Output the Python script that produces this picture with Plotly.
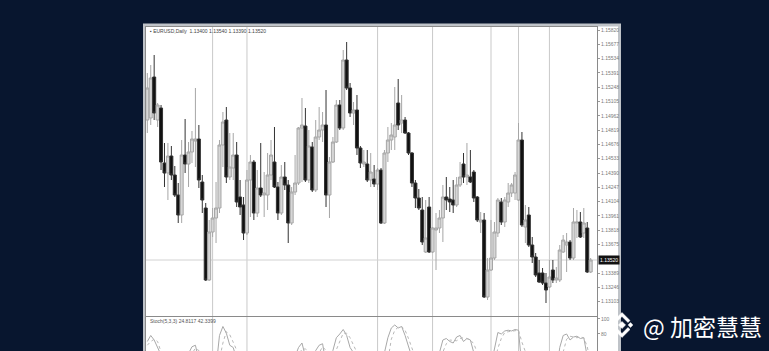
import plotly.graph_objects as go

W, H = 769, 351

# ---------------- data ----------------
bar_index = list(range(1, 131))

opens = [1.1492, 1.1494, 1.1535, 1.1492, 1.1504, 1.1449, 1.1439, 1.1456, 1.1437, 1.1417,
         1.1397, 1.1457, 1.1448, 1.1460, 1.1471, 1.1473, 1.1430, 1.1404, 1.1332, 1.1380,
         1.1394, 1.1404, 1.1467, 1.1492, 1.1435, 1.1444, 1.1457, 1.1415, 1.1407, 1.1379,
         1.1432, 1.1450, 1.1399, 1.1424, 1.1417, 1.1417, 1.1437, 1.1450, 1.1425, 1.1399,
         1.1435, 1.1427, 1.1389, 1.1420, 1.1429, 1.1484, 1.1486, 1.1432, 1.1465, 1.1422,
         1.1475, 1.1482, 1.1487, 1.1417, 1.1450, 1.1470, 1.1507, 1.1484, 1.1552, 1.1524,
         1.1499, 1.1502, 1.1464, 1.1448, 1.1448, 1.1432, 1.1433, 1.1428, 1.1442, 1.1389,
         1.1459, 1.1472, 1.1475, 1.1509, 1.1489, 1.1492, 1.1479, 1.1459, 1.1429, 1.1414,
         1.1402, 1.1360, 1.1405, 1.1360, 1.1382, 1.1384, 1.1394, 1.1415, 1.1413, 1.1412,
         1.1407, 1.1427, 1.1448, 1.1435, 1.1435, 1.1440, 1.1415, 1.1390, 1.1392, 1.1315,
         1.1342, 1.1354, 1.1379, 1.1410, 1.1390, 1.1410, 1.1419, 1.1419, 1.1412, 1.1472,
         1.1385, 1.1397, 1.1367, 1.1355, 1.1339, 1.1339, 1.1329, 1.1325, 1.1342, 1.1332,
         1.1332, 1.1360, 1.1367, 1.1370, 1.1354, 1.1389, 1.1390, 1.1379, 1.1384, 1.1340]

highs = [1.1539, 1.1547, 1.1557, 1.1509, 1.1507, 1.1469, 1.1469, 1.1466, 1.1446, 1.1429,
         1.1472, 1.1493, 1.1470, 1.1481, 1.1524, 1.1487, 1.1437, 1.1409, 1.1392, 1.1404,
         1.1430, 1.1472, 1.1500, 1.1505, 1.1479, 1.1479, 1.1470, 1.1432, 1.1415, 1.1442,
         1.1457, 1.1452, 1.1442, 1.1469, 1.1440, 1.1459, 1.1472, 1.1485, 1.1430, 1.1447,
         1.1450, 1.1432, 1.1425, 1.1457, 1.1485, 1.1514, 1.1504, 1.1482, 1.1470, 1.1492,
         1.1505, 1.1500, 1.1522, 1.1455, 1.1475, 1.1512, 1.1512, 1.1562, 1.1570, 1.1529,
         1.1510, 1.1517, 1.1466, 1.1462, 1.1462, 1.1459, 1.1447, 1.1444, 1.1444, 1.1462,
         1.1485, 1.1489, 1.1525, 1.1533, 1.1517, 1.1495, 1.1480, 1.1460, 1.1432, 1.1423,
         1.1415, 1.1412, 1.1415, 1.1385, 1.1399, 1.1402, 1.1427, 1.1435, 1.1425, 1.1432,
         1.1435, 1.1450, 1.1459, 1.1469, 1.1462, 1.1442, 1.1416, 1.1400, 1.1399, 1.1354,
         1.1392, 1.1390, 1.1414, 1.1414, 1.1415, 1.1429, 1.1429, 1.1440, 1.1489, 1.1480,
         1.1407, 1.1405, 1.1375, 1.1359, 1.1352, 1.1344, 1.1339, 1.1352, 1.1352, 1.1345,
         1.1367, 1.1377, 1.1379, 1.1372, 1.1404, 1.1402, 1.1400, 1.1404, 1.1390, 1.1354]

lows = [1.1479, 1.1487, 1.1492, 1.1485, 1.1442, 1.1425, 1.1412, 1.1432, 1.1415, 1.1389,
        1.1389, 1.1439, 1.1425, 1.1449, 1.1445, 1.1424, 1.1399, 1.1331, 1.1331, 1.1375,
        1.1369, 1.1399, 1.1445, 1.1429, 1.1432, 1.1432, 1.1405, 1.1397, 1.1372, 1.1377,
        1.1395, 1.1392, 1.1395, 1.1415, 1.1395, 1.1402, 1.1432, 1.1424, 1.1392, 1.1397,
        1.1422, 1.1369, 1.1387, 1.1417, 1.1427, 1.1430, 1.1430, 1.1429, 1.1420, 1.1420,
        1.1472, 1.1470, 1.1405, 1.1394, 1.1449, 1.1469, 1.1482, 1.1482, 1.1522, 1.1495,
        1.1487, 1.1457, 1.1444, 1.1445, 1.1430, 1.1425, 1.1425, 1.1422, 1.1388, 1.1388,
        1.1450, 1.1462, 1.1462, 1.1482, 1.1479, 1.1478, 1.1457, 1.1425, 1.1404, 1.1402,
        1.1367, 1.1359, 1.1359, 1.1359, 1.1342, 1.1379, 1.1370, 1.1402, 1.1400, 1.1399,
        1.1405, 1.1425, 1.1429, 1.1427, 1.1429, 1.1410, 1.1390, 1.1379, 1.1314, 1.1312,
        1.1341, 1.1352, 1.1375, 1.1387, 1.1385, 1.1405, 1.1415, 1.1412, 1.1411, 1.1385,
        1.1369, 1.1365, 1.1349, 1.1335, 1.1329, 1.1327, 1.1309, 1.1324, 1.1329, 1.1329,
        1.1330, 1.1359, 1.1340, 1.1352, 1.1352, 1.1374, 1.1374, 1.1374, 1.1339, 1.1339]

closes = [1.1524, 1.1534, 1.1499, 1.1507, 1.1450, 1.1439, 1.1456, 1.1437, 1.1417, 1.1397,
          1.1457, 1.1448, 1.1460, 1.1473, 1.1473, 1.1432, 1.1412, 1.1332, 1.1380, 1.1394,
          1.1404, 1.1467, 1.1490, 1.1435, 1.1445, 1.1457, 1.1410, 1.1405, 1.1379, 1.1432,
          1.1450, 1.1399, 1.1424, 1.1417, 1.1419, 1.1437, 1.1457, 1.1425, 1.1399, 1.1435,
          1.1427, 1.1389, 1.1420, 1.1429, 1.1484, 1.1487, 1.1432, 1.1466, 1.1422, 1.1475,
          1.1482, 1.1487, 1.1417, 1.1450, 1.1470, 1.1507, 1.1484, 1.1552, 1.1524, 1.1499,
          1.1502, 1.1464, 1.1449, 1.1450, 1.1432, 1.1440, 1.1428, 1.1442, 1.1389, 1.1459,
          1.1472, 1.1477, 1.1487, 1.1487, 1.1492, 1.1479, 1.1459, 1.1429, 1.1414, 1.1404,
          1.1370, 1.1374, 1.1360, 1.1384, 1.1384, 1.1394, 1.1415, 1.1412, 1.1410, 1.1407,
          1.1427, 1.1435, 1.1435, 1.1437, 1.1430, 1.1414, 1.1392, 1.1392, 1.1315, 1.1342,
          1.1354, 1.1380, 1.1412, 1.1390, 1.1412, 1.1419, 1.1427, 1.1437, 1.1472, 1.1387,
          1.1392, 1.1367, 1.1355, 1.1337, 1.1330, 1.1329, 1.1322, 1.1335, 1.1332, 1.1334,
          1.1362, 1.1372, 1.1370, 1.1354, 1.1390, 1.1390, 1.1375, 1.1389, 1.1340, 1.1352]

stoch_main = [70, 78, 72, 60, 35, 25, 30, 22, 12, 8,
              40, 45, 55, 63, 65, 45, 25, 5, 15, 22,
              35, 78, 90, 81, 65, 62, 40, 30, 15, 35,
              45, 30, 40, 42, 40, 50, 55, 45, 30, 45,
              48, 25, 40, 50, 62, 68, 50, 52, 42, 58,
              65, 67, 40, 45, 58, 75, 80, 86, 78, 62,
              55, 35, 22, 20, 12, 18, 15, 25, 5, 55,
              75, 88, 92, 88, 90, 78, 55, 30, 15, 10,
              5, 15, 8, 30, 40, 55, 72, 74, 70, 68,
              76, 78, 70, 74, 72, 55, 30, 28, 5, 25,
              40, 60, 82, 80, 84, 85, 84, 86, 85, 35,
              30, 15, 8, 5, 8, 7, 10, 25, 30, 28,
              62, 78, 80, 72, 76, 77, 74, 75, 40, 24.8117]

stoch_signal = [65, 70, 73, 70, 56, 40, 30, 26, 21, 14,
                20, 31, 47, 54, 61, 58, 45, 25, 15, 14,
                24, 45, 68, 83, 79, 69, 56, 44, 28, 27,
                32, 37, 38, 37, 41, 44, 48, 50, 43, 40,
                41, 39, 38, 38, 51, 60, 60, 57, 48, 51,
                55, 63, 57, 51, 48, 59, 71, 81, 81, 75,
                65, 51, 37, 26, 18, 17, 15, 19, 15, 28,
                45, 73, 85, 89, 90, 85, 74, 54, 33, 18,
                10, 10, 9, 18, 26, 42, 56, 67, 72, 71,
                71, 74, 75, 74, 72, 67, 52, 38, 21, 19,
                23, 42, 61, 74, 82, 83, 84, 85, 85, 69,
                50, 27, 18, 9, 7, 7, 8, 14, 22, 28,
                40, 56, 73, 77, 76, 75, 76, 75, 63, 42.3399]

price_ticks = [1.15820, 1.15677, 1.15534, 1.15391, 1.15248, 1.15105, 1.14962,
               1.14819, 1.14676, 1.14533, 1.14390, 1.14247, 1.14104, 1.13961,
               1.13818, 1.13675, 1.13389, 1.13246, 1.13103, 1.12960]
stoch_ticks = [80, 100]
separator_bars = [20, 30, 68, 84, 101, 109, 118]

symbol = "EURUSD,Daily"
stoch_name = "Stoch(5,3,3)"

# ---------------- layout helpers ----------------
def fx(px):
    return px / W

def fy(py):
    return 1 - py / H

X_DOM = [fx(146), fx(597)]
Y_MAIN = [fy(315.7), fy(27)]
Y_SUB = [0, fy(316.5)]
BAR_STEP = 3.437
X_RANGE = [1 - (147.3 - 146) / BAR_STEP, 1 + (597 - 147.3) / BAR_STEP]

FONT = "Liberation Sans"

fig = go.Figure()

fig.add_trace(go.Candlestick(
    x=bar_index, open=opens, high=highs, low=lows, close=closes,
    increasing=dict(line=dict(color="#a6a6a6", width=1), fillcolor="#d6d6d6"),
    decreasing=dict(line=dict(color="#333333", width=1), fillcolor="#111111"),
    whiskerwidth=0, showlegend=False, hoverinfo="skip",
    xaxis="x", yaxis="y"))

fig.add_trace(go.Scatter(
    x=bar_index, y=stoch_main, mode="lines",
    line=dict(color="#a8a8a8", width=1), showlegend=False, hoverinfo="skip",
    xaxis="x2", yaxis="y2"))
fig.add_trace(go.Scatter(
    x=bar_index, y=stoch_signal, mode="lines",
    line=dict(color="#b8b8b8", width=1, dash="dot"), showlegend=False, hoverinfo="skip",
    xaxis="x2", yaxis="y2"))

shapes = []
# window frame and white panel
shapes.append(dict(type="rect", xref="paper", yref="paper", x0=fx(143), x1=fx(621),
                   y0=fy(355), y1=fy(23.5), fillcolor="#bfc3c8", line=dict(width=0), layer="below"))
shapes.append(dict(type="rect", xref="paper", yref="paper", x0=fx(146), x1=fx(618),
                   y0=fy(355), y1=fy(26.5), fillcolor="#ffffff", line=dict(width=0), layer="below"))
# period separators
for b in separator_bars:
    shapes.append(dict(type="line", xref="x", yref="paper", x0=b, x1=b,
                       y0=0, y1=Y_MAIN[1], line=dict(color="#c9c9c9", width=1), layer="below"))
# current price line
last_close = closes[-1]
shapes.append(dict(type="line", xref="paper", yref="y", x0=X_DOM[0], x1=X_DOM[1],
                   y0=last_close, y1=last_close, line=dict(color="#d2d2d2", width=1), layer="below"))

# Binance-like logo (watermark)
cx, cy = 622, 325
def P(x, y):
    return f"{fx(x):.5f},{fy(y):.5f}"
def diamond(x, y, r):
    return f"M {P(x, y - r)} L {P(x + r, y)} L {P(x, y + r)} L {P(x - r, y)} Z"
logo_paths = [
    diamond(cx, cy, 3.6),
    diamond(cx - 8.5, cy, 2.4),
    diamond(cx + 8.5, cy, 2.4),
    f"M {P(cx - 8, cy - 4.5)} L {P(cx, cy - 12.5)} L {P(cx + 8, cy - 4.5)} L {P(cx + 6, cy - 2.5)} L {P(cx, cy - 8.5)} L {P(cx - 6, cy - 2.5)} Z",
    f"M {P(cx - 8, cy + 4.5)} L {P(cx, cy + 12.5)} L {P(cx + 8, cy + 4.5)} L {P(cx + 6, cy + 2.5)} L {P(cx, cy + 8.5)} L {P(cx - 6, cy + 2.5)} Z",
]
for pth in logo_paths:
    shapes.append(dict(type="path", xref="paper", yref="paper", path=pth,
                       fillcolor="#ffffff", line=dict(color="#ffffff", width=0.5), layer="above"))

annotations = [
    dict(xref="paper", yref="paper", x=fx(148), y=fy(30.5), xanchor="left", yanchor="middle",
         text=f"▪ {symbol}  {opens[-1]:.5f} {highs[-1]:.5f} {lows[-1]:.5f} {closes[-1]:.5f}",
         showarrow=False, font=dict(family=FONT, size=5, color="#444444")),
    dict(xref="paper", yref="paper", x=fx(148), y=fy(320.5), xanchor="left", yanchor="middle",
         text=f"{stoch_name} {stoch_main[-1]:.4f} {stoch_signal[-1]:.4f}",
         showarrow=False, font=dict(family=FONT, size=5, color="#555555")),
    dict(xref="paper", yref="y", x=fx(598), y=last_close, xanchor="left", yanchor="middle",
         text=f"{last_close:.5f}", showarrow=False, bgcolor="#111111", borderpad=1,
         font=dict(family=FONT, size=5, color="#ffffff")),
    dict(xref="paper", yref="paper", x=fx(641), y=fy(326), xanchor="left", yanchor="middle",
         text="@ 加密慧慧", showarrow=False,
         font=dict(family="Noto Sans CJK SC", size=23, color="#ffffff")),
]

fig.update_layout(
    width=W, height=H, autosize=False,
    margin=dict(l=0, r=0, t=0, b=0, pad=0),
    paper_bgcolor="#08162f", plot_bgcolor="#ffffff",
    showlegend=False, boxgap=0.12, boxgroupgap=0,
    shapes=shapes, annotations=annotations,
    xaxis=dict(domain=X_DOM, range=X_RANGE, anchor="y", showgrid=False, zeroline=False,
               showticklabels=False, ticks="", showline=True, mirror=True,
               linecolor="#8a8a8a", linewidth=1, rangeslider=dict(visible=False), fixedrange=True),
    yaxis=dict(domain=Y_MAIN, range=[1.12963, 1.1585], anchor="x", side="right",
               showgrid=False, zeroline=False, showline=True, mirror=True,
               linecolor="#8a8a8a", linewidth=1,
               tickvals=price_ticks, ticktext=[f"{v:.5f}" for v in price_ticks],
               ticks="outside", ticklen=2, tickcolor="#9a9a9a",
               tickfont=dict(family=FONT, size=5, color="#7a7a7a"), fixedrange=True),
    xaxis2=dict(domain=X_DOM, range=X_RANGE, anchor="y2", showgrid=False, zeroline=False,
                showticklabels=False, ticks="", showline=True, mirror=True,
                linecolor="#8a8a8a", linewidth=1, fixedrange=True),
    yaxis2=dict(domain=Y_SUB, range=[57.33, 103.3], anchor="x2", side="right",
                showgrid=False, zeroline=False, showline=True, mirror=True,
                linecolor="#8a8a8a", linewidth=1,
                tickvals=stoch_ticks, ticktext=[str(v) for v in stoch_ticks],
                ticks="outside", ticklen=2, tickcolor="#9a9a9a",
                tickfont=dict(family=FONT, size=5, color="#7a7a7a"), fixedrange=True),
)

fig.write_html("out.html", config={"displayModeBar": False})
